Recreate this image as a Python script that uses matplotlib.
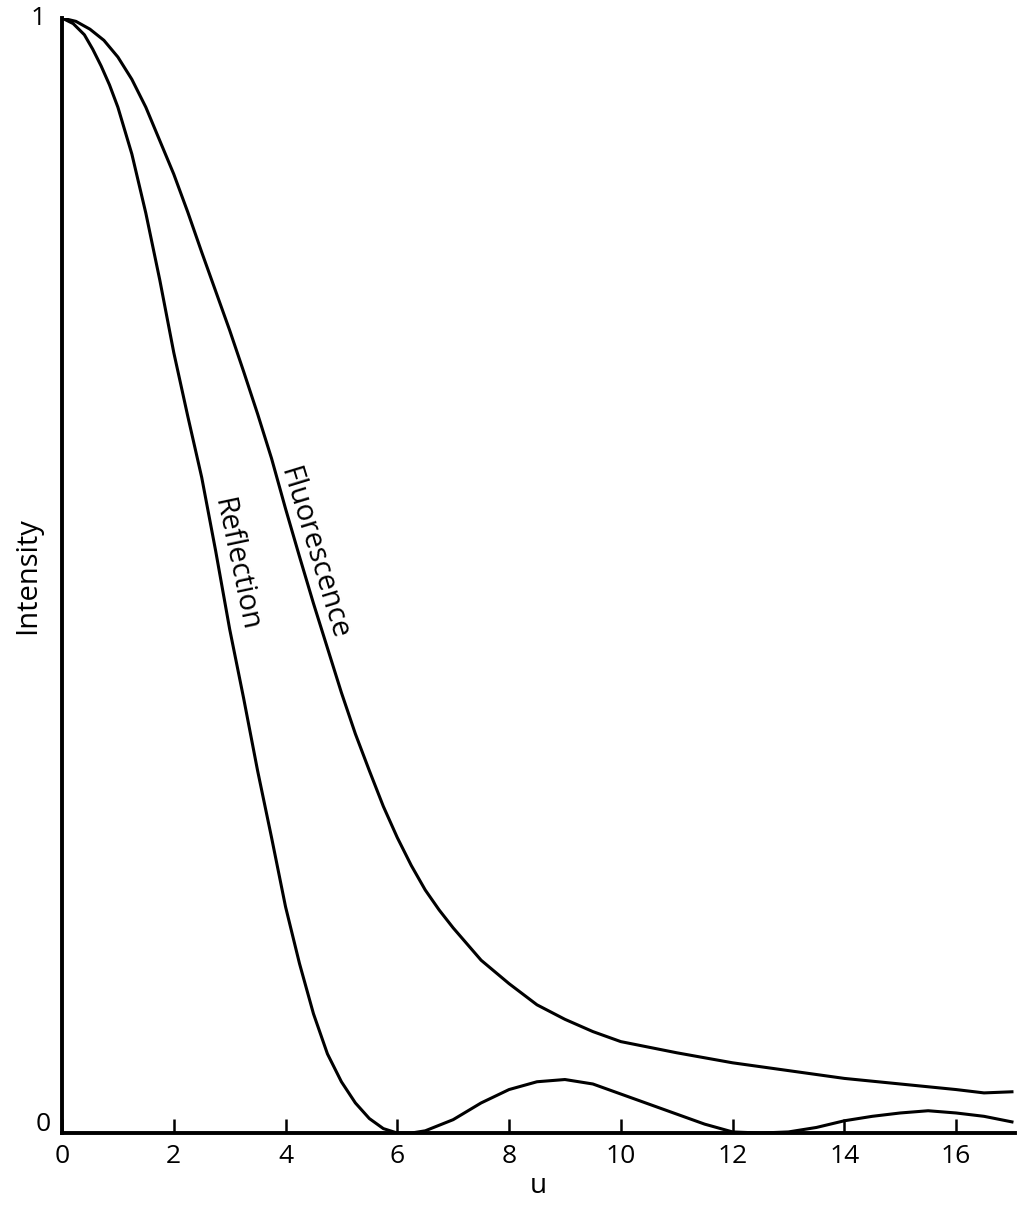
import numpy as np
import matplotlib
matplotlib.use('Agg')
import matplotlib.pyplot as plt

plt.rcParams['font.family'] = ['Open Sans', 'DejaVu Sans']

# Values
u_refl = [0, 0.2, 0.4, 0.55, 0.7, 0.85, 1.0, 1.25, 1.5, 1.75, 2.0, 2.25, 2.5,
          2.75, 3.0, 3.25, 3.5, 3.75, 4.0, 4.25, 4.5, 4.75, 5.0, 5.25, 5.5,
          5.75, 6.0, 6.25, 6.5, 7.0, 7.5, 8.0, 8.5, 9.0, 9.5, 10.0, 10.5, 11.0,
          11.5, 12.0, 12.5, 13.0, 13.5, 14.0, 14.5, 15.0, 15.5, 16.0, 16.5, 17.0]
i_refl = [1.0, 0.995, 0.985, 0.972, 0.957, 0.94, 0.92, 0.878, 0.825, 0.765,
          0.70, 0.643, 0.588, 0.522, 0.452, 0.39, 0.325, 0.265, 0.203, 0.152,
          0.107, 0.071, 0.046, 0.027, 0.013, 0.004, 0.0, 0.0, 0.002, 0.012,
          0.027, 0.039, 0.046, 0.048, 0.044, 0.035, 0.026, 0.017, 0.008, 0.001,
          0.0, 0.001, 0.005, 0.011, 0.015, 0.018, 0.020, 0.018, 0.015, 0.010]

u_fluo = [0, 0.25, 0.5, 0.75, 1.0, 1.25, 1.5, 1.75, 2.0, 2.25, 2.5, 2.75, 3.0,
          3.25, 3.5, 3.75, 4.0, 4.25, 4.5, 4.75, 5.0, 5.25, 5.5, 5.75, 6.0,
          6.25, 6.5, 6.75, 7.0, 7.5, 8.0, 8.5, 9.0, 9.5, 10.0, 11.0, 12.0, 13.0,
          14.0, 15.0, 16.0, 16.5, 17.0]
i_fluo = [1.0, 0.997, 0.99, 0.98, 0.965, 0.945, 0.92, 0.89, 0.86, 0.826, 0.79,
          0.755, 0.72, 0.683, 0.645, 0.605, 0.56, 0.517, 0.475, 0.435, 0.395,
          0.358, 0.325, 0.293, 0.265, 0.24, 0.218, 0.2, 0.184, 0.155, 0.134,
          0.115, 0.102, 0.091, 0.082, 0.072, 0.063, 0.056, 0.049, 0.044, 0.039,
          0.036, 0.037]

x_ticks = [0, 2, 4, 6, 8, 10, 12, 14, 16]

fig = plt.figure(figsize=(10.25, 12.1), dpi=100)
ax = fig.add_axes([0.0605, 0.0636, 0.9295, 0.9215])

ax.plot(u_refl, i_refl, color='black', lw=2.2)
ax.plot(u_fluo, i_fluo, color='black', lw=2.2)

ax.set_xlim(0, 17.05)
ax.set_ylim(0, 1)

for side in ['top', 'right']:
    ax.spines[side].set_visible(False)
for side in ['left', 'bottom']:
    ax.spines[side].set_linewidth(2.8)

ax.set_xticks(x_ticks)
ax.set_xticklabels([str(t) for t in x_ticks], fontsize=19)
ax.tick_params(axis='x', direction='in', length=10, width=1.8, pad=8)
ax.set_yticks([])
# y-axis end labels
ax.text(-0.2, 0.008, '0', ha='right', va='center', fontsize=19)
ax.text(-0.3, 1.0, '1', ha='right', va='center', fontsize=19)

ax.set_xlabel('u', fontsize=20, labelpad=2)
ax.set_ylabel('Intensity', fontsize=21, labelpad=14)

ax.text(3.1, 0.51, 'Reflection', rotation=-78, ha='center', va='center',
        fontsize=21)
ax.text(4.5, 0.52, 'Fluorescence', rotation=-73, ha='center', va='center',
        fontsize=21)

fig.savefig('out.png', dpi=100)
